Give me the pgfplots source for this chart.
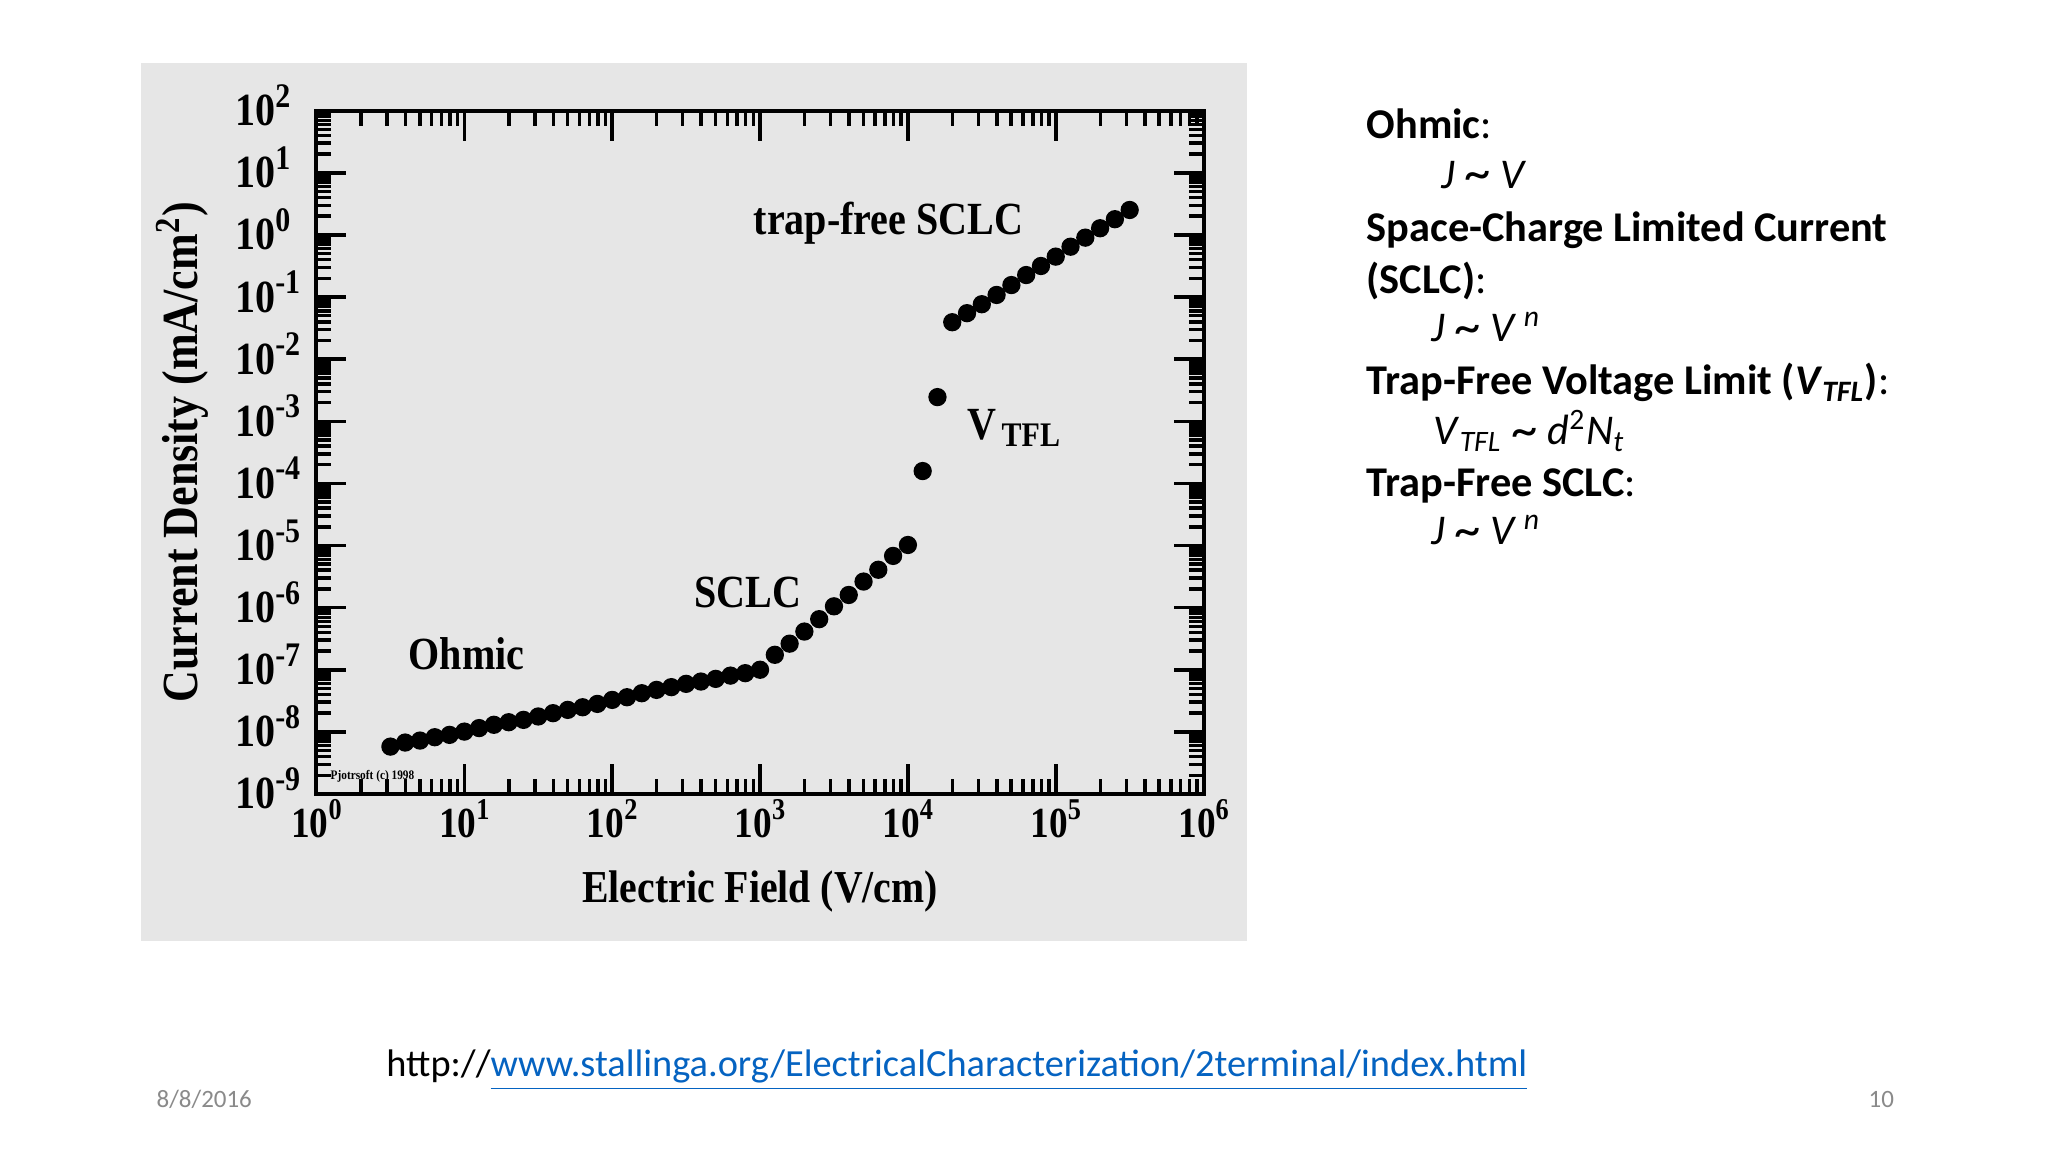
\documentclass[border=0pt]{standalone}
\usepackage{pgfplots}
\pgfplotsset{compat=1.18}
\usepackage{fontspec}
\setmainfont{Carlito}
\newfontfamily\chartfont[FakeStretch=0.87]{Liberation Serif}
\definecolor{panelgray}{HTML}{E6E6E6}
\definecolor{linkblue}{HTML}{0563C1}
\definecolor{footgray}{HTML}{8A8A8A}
\newcommand\tlx[1]{10\raisebox{0.42em}{\fontsize{8.6}{9}\selectfont #1}}
\newcommand\tly[1]{10\raisebox{0.40em}{\fontsize{9.8}{10}\selectfont #1}}
\newcommand\cf{\chartfont\bfseries\fontsize{13.1}{15}\selectfont}
\newcommand\rf{\fontsize{12.05}{14}\selectfont}
\newcommand\tld{{\fontsize{15}{14}\selectfont\raisebox{-0.05em}{\textasciitilde}}}
\begin{document}
\begin{tikzpicture}[x=0.1mm,y=0.1mm]
\fill[white] (0,0) rectangle (2048,1152);
\fill[panelgray] (141,211) rectangle (1247,1089);
\begin{axis}[
  at={(31.65mm,35.8mm)}, anchor=south west,
  width=88.71mm, height=68.33mm, scale only axis,
  xmode=log, ymode=log,
  xmin=1, xmax=1e6, ymin=1e-9, ymax=1e2,
  xtick={1,10,100,1000,10000,100000,1000000},
  xticklabels={\tlx{0},\tlx{1},\tlx{2},\tlx{3},\tlx{4},\tlx{5},\tlx{6}},
  ytick={1e-9,1e-8,1e-7,1e-6,1e-5,1e-4,1e-3,1e-2,1e-1,1,10,100},
  yticklabels={\tly{-9},\tly{-8},\tly{-7},\tly{-6},\tly{-5},\tly{-4},\tly{-3},\tly{-2},\tly{-1},\tly{0},\tly{1},\tly{2}},
  axis line style={line width=0.4mm},
  every tick/.style={black, line width=0.35mm},
  major tick length=3mm, minor tick length=1.5mm,
  xticklabel style={font=\chartfont\bfseries\fontsize{12.2}{14}\selectfont, anchor=base, inner sep=0pt, yshift=-4.4mm},
  yticklabel style={font=\chartfont\bfseries\fontsize{13.1}{14}\selectfont, anchor=base west, inner sep=0pt, xshift=-8.2mm, yshift=-1.5mm},
  xlabel={Electric Field (V/cm)},
  ylabel={Current Density (mA/cm\textsuperscript{2})},
  xlabel style={font=\chartfont\bfseries\fontsize{13.0}{15}\selectfont, at={(axis description cs:0.5,-0.1595)}, anchor=base, inner sep=0pt},
  ylabel style={font=\chartfont\bfseries\fontsize{14.4}{16}\selectfont, at={(axis description cs:-0.1337,0.5)}, anchor=base, inner sep=0pt},
]
\addplot[only marks, mark=*, mark size=2.4pt, black] coordinates {
(3.162,5.79e-9) (3.981,6.73e-9) (5.012,7.24e-9) (6.310,8.20e-9) (7.943,8.95e-9)
(10,1.01e-8) (12.59,1.15e-8) (15.85,1.30e-8) (19.95,1.43e-8) (25.12,1.56e-8)
(31.62,1.77e-8) (39.81,2.00e-8) (50.12,2.26e-8) (63.10,2.49e-8) (79.43,2.82e-8)
(100,3.27e-8) (125.9,3.61e-8) (158.5,4.19e-8) (199.5,4.74e-8) (251.2,5.25e-8)
(316.2,5.93e-8) (398.1,6.46e-8) (501.2,7.13e-8) (631.0,8.05e-8) (794.3,8.81e-8)
(1000,1.0e-7)
(1259,1.74e-7) (1585,2.63e-7) (1995,4.12e-7) (2512,6.52e-7) (3162,1.05e-6)
(3981,1.60e-6) (5012,2.63e-6) (6310,4.07e-6) (7943,6.8e-6) (10000,1.02e-5)
(12589,1.58e-4) (15849,2.45e-3)
(19953,3.93e-2) (25119,5.50e-2) (31623,7.66e-2) (39811,1.08e-1) (50119,1.56e-1)
(63096,2.26e-1) (79433,3.16e-1) (100000,4.47e-1) (125893,6.46e-1) (158489,9.04e-1)
(199526,1.28) (251189,1.79) (316228,2.52)
};
\end{axis}
% chart annotations
\node[anchor=base west, inner sep=0pt, font=\cf] at (753,917) {trap-free SCLC};
\node[anchor=base west, inner sep=0pt, font=\cf] at (967,712) {V};
\node[anchor=base west, inner sep=0pt, font=\chartfont\bfseries\fontsize{9.8}{10}\selectfont] at (1001,705) {TFL};
\node[anchor=base west, inner sep=0pt, font=\cf] at (408,482) {Ohmic};
\node[anchor=base west, inner sep=0pt, font=\cf] at (694,544) {SCLC};
\node[anchor=base west, inner sep=0pt, font=\chartfont\bfseries\fontsize{3.7}{4}\selectfont] at (330,372) {Pjotrsoft (c) 1998};
% right text
\begin{scope}[every node/.style={anchor=base west, inner sep=0pt, font=\rf}]
\node at (1366,1013.7) {\textbf{Ohmic}:};
\node at (1441,963.7) {\textit{J} \tld{} \textit{V}};
\node at (1366,910.3) {\textbf{Space-Charge Limited Current}};
\node at (1366,858.7) {\textbf{(SCLC)}:};
\node at (1431,810.3) {\textit{J} \tld{} \textit{V}\,\textsuperscript{\textit{n}}};
\node at (1366,757) {\textbf{Trap-Free Voltage Limit (\textit{V}\textsubscript{\textit{TFL}})}:};
\node at (1433,707) {\textit{V}\textsubscript{\textit{TFL}} \tld{} \textit{d}\textsuperscript{2}\textit{N}\textsubscript{\textit{t}}};
\node at (1366,655.3) {\textbf{Trap-Free SCLC}:};
\node at (1431,607) {\textit{J} \tld{} \textit{V}\,\textsuperscript{\textit{n}}};
\end{scope}
% footer
\node[anchor=base west, inner sep=0pt, font=\fontsize{10.92}{13}\selectfont] at (385.7,75) {http://\textcolor{linkblue}{\underline{www.stallinga.org/ElectricalCharacterization/2terminal/index.html}}};
\node[anchor=base west, inner sep=0pt, font=\fontsize{7.1}{9}\selectfont, text=footgray] at (156,44) {8/8/2016};
\node[anchor=base west, inner sep=0pt, font=\fontsize{7.1}{9}\selectfont, text=footgray] at (1868,44) {10};
\end{tikzpicture}
\end{document}
